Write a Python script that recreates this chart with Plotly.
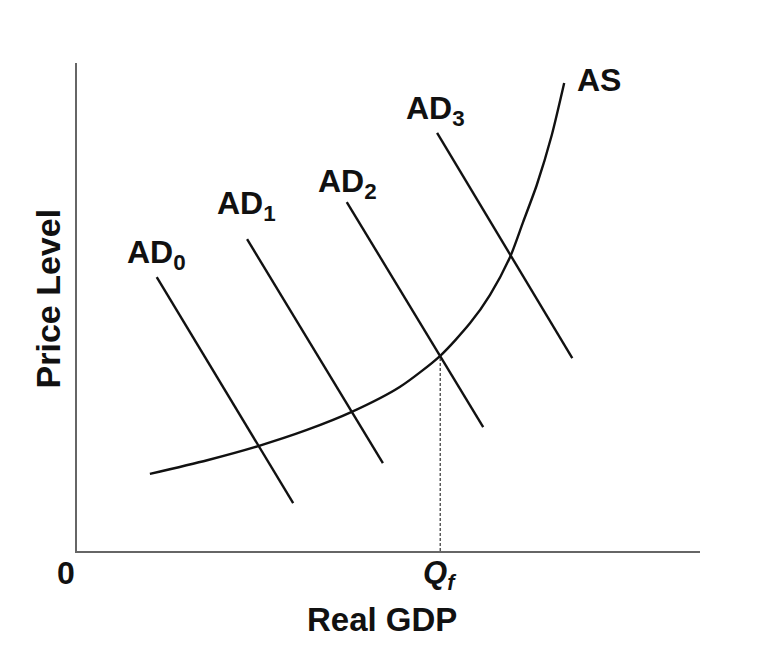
import plotly.graph_objects as go

# Aggregate supply curve (Real GDP, Price Level) in chart units (axes run 0..10)
as_x = [1.17, 2.09, 2.91, 3.69, 4.41, 5.18, 5.83, 6.31, 6.63, 6.95, 7.16, 7.38, 7.62, 7.82]
as_y = [1.58, 1.86, 2.15, 2.48, 2.85, 3.36, 4.00, 4.67, 5.25, 6.02, 6.74, 7.50, 8.52, 9.59]

# Aggregate demand lines: (x_start, x_end), (y_start, y_end)
ad_names = ["AD<sub>0</sub>", "AD<sub>1</sub>", "AD<sub>2</sub>", "AD<sub>3</sub>"]
ad_x = [[1.28, 3.47], [2.73, 4.91], [4.33, 6.52], [5.78, 7.95]]
ad_y = [[5.61, 0.98], [6.39, 1.80], [7.15, 2.54], [8.57, 3.95]]
ad_label_x = [0.77, 2.22, 3.84, 5.25]
ad_label_y = [6.07, 7.09, 7.54, 9.02]

# Full-employment output
qf_x = 5.83
qf_y = 4.00

FONT = "Liberation Sans, Arial, sans-serif"
X_MAX = 10.0
Y_MAX = 10.0

fig = go.Figure()

fig.add_trace(go.Scatter(x=as_x, y=as_y, mode="lines",
                         line=dict(color="#111", width=2.4, shape="spline", smoothing=0.7),
                         hoverinfo="skip", showlegend=False))

for xs, ys in zip(ad_x, ad_y):
    fig.add_trace(go.Scatter(x=xs, y=ys, mode="lines",
                             line=dict(color="#111", width=2.4),
                             hoverinfo="skip", showlegend=False))

fig.add_trace(go.Scatter(x=[qf_x, qf_x], y=[0, qf_y], mode="lines",
                         line=dict(color="#333", width=1.2, dash="3px,2px"),
                         hoverinfo="skip", showlegend=False))

bold = lambda s: dict(family=FONT, size=s, color="#111", weight="bold")

annotations = []
for name, lx, ly in zip(ad_names, ad_label_x, ad_label_y):
    annotations.append(dict(x=lx, y=ly, text=name, showarrow=False,
                            xanchor="left", yanchor="middle", font=bold(32)))
annotations.append(dict(x=8.0, y=9.65, text="AS", showarrow=False,
                        xanchor="left", yanchor="middle", font=bold(32)))
# Labels outside the plotting range use paper coordinates (axis value / axis max)
annotations.append(dict(x=qf_x / X_MAX, y=-0.49 / Y_MAX, xref="paper", yref="paper",
                        text="<i>Q<sub>f</sub></i>", showarrow=False,
                        xanchor="center", yanchor="middle", font=bold(31)))
annotations.append(dict(x=-0.17 / X_MAX, y=-0.45 / Y_MAX, xref="paper", yref="paper",
                        text="0", showarrow=False,
                        xanchor="center", yanchor="middle", font=bold(32)))
annotations.append(dict(x=4.9 / X_MAX, y=-1.41 / Y_MAX, xref="paper", yref="paper",
                        text="Real GDP", showarrow=False,
                        xanchor="center", yanchor="middle", font=bold(33)))
annotations.append(dict(x=-0.47 / X_MAX, y=6.07 / Y_MAX - 0.09, xref="paper", yref="paper",
                        text="Price Level", showarrow=False, textangle=-90,
                        xanchor="center", yanchor="middle", font=bold(34)))

fig.update_layout(
    width=778, height=664,
    margin=dict(l=77, r=78, t=63, b=113),
    paper_bgcolor="white", plot_bgcolor="white",
    annotations=annotations,
    xaxis=dict(range=[0, X_MAX], showgrid=False, zeroline=False, showticklabels=False,
               ticks="", showline=True, linecolor="#666", linewidth=2, fixedrange=True),
    yaxis=dict(range=[0, Y_MAX], showgrid=False, zeroline=False, showticklabels=False,
               ticks="", showline=True, linecolor="#666", linewidth=2, fixedrange=True),
)

fig.write_html("out.html")
